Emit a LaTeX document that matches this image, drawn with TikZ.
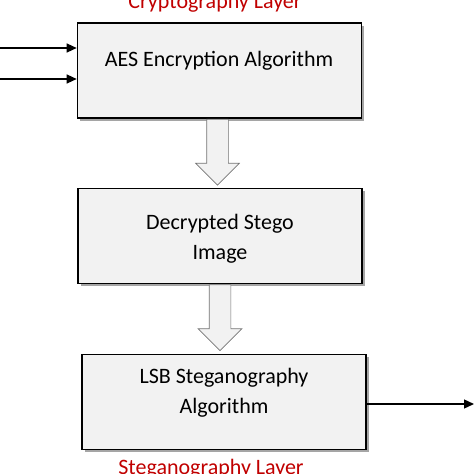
\documentclass[tikz,border=0pt]{standalone}
\usepackage{fontspec}
\setmainfont{Carlito}
\usetikzlibrary{shapes.arrows,shadows,arrows.meta}
\definecolor{layerred}{RGB}{192,0,0}
\definecolor{boxgray}{RGB}{242,242,242}
\tikzset{
  layerbox/.style={draw=black, line width=1.6pt, fill=boxgray,
    minimum width=284pt, minimum height=95pt,
    drop shadow={shadow xshift=2.5pt, shadow yshift=-2.5pt, fill=black!70, opacity=0.5}},
  boxtext/.style={font=\fontsize{22}{30}\selectfont, align=center, inner sep=0pt},
  flowarrow/.style={single arrow, draw=black!55, fill=boxgray, line width=0.7pt,
    rotate=-90, inner xsep=0pt, inner ysep=10.5pt, single arrow head extend=11pt,
    single arrow tip angle=90, minimum height=66pt, anchor=tail},
  layerlabel/.style={text=layerred, font=\fontsize{22}{26}\selectfont, anchor=base, inner sep=0pt},
  signal/.style={-{Triangle[length=10pt,width=9pt]}, line width=1.3pt}
}
\begin{document}
\begin{tikzpicture}[x=1pt,y=-1pt]
      \useasboundingbox (0,0) rectangle (474,474);
      % layers
      \node[layerbox] (aes) at (219.5,70.5) {};
      \node[layerbox] (decrypt) at (220,236) {};
      \node[layerbox] (lsb) at (224,402) {};
      \node[boxtext, anchor=base] (aestext) at (219,66) {AES Encryption Algorithm};
      \node[boxtext] (decrypttext) at (220,239) {Decrypted Stego\\Image};
      \node[boxtext] (lsbtext) at (224,393) {LSB Steganography\\Algorithm};
      \node[layerlabel] (cryptolabel) at (215,8) {Cryptography Layer};
      \node[layerlabel] (stegolabel) at (211,474) {Steganography Layer};
      % flow between layers
      \node[flowarrow] (down1) at ([xshift=-2pt]aes.south) {};
      \node[flowarrow] (down2) at (decrypt.south) {};
      % inputs and output
      \coordinate (in1) at (0,48);
      \coordinate (in2) at (0,79);
      \coordinate (out) at (474,404);
      \begin{scope}[signal]
        \draw (in1) -- (in1 -| aes.west);
        \draw (in2) -- (in2 -| aes.west);
        \draw (out -| lsb.east) -- (out);
      \end{scope}
    \end{tikzpicture}
\end{document}
